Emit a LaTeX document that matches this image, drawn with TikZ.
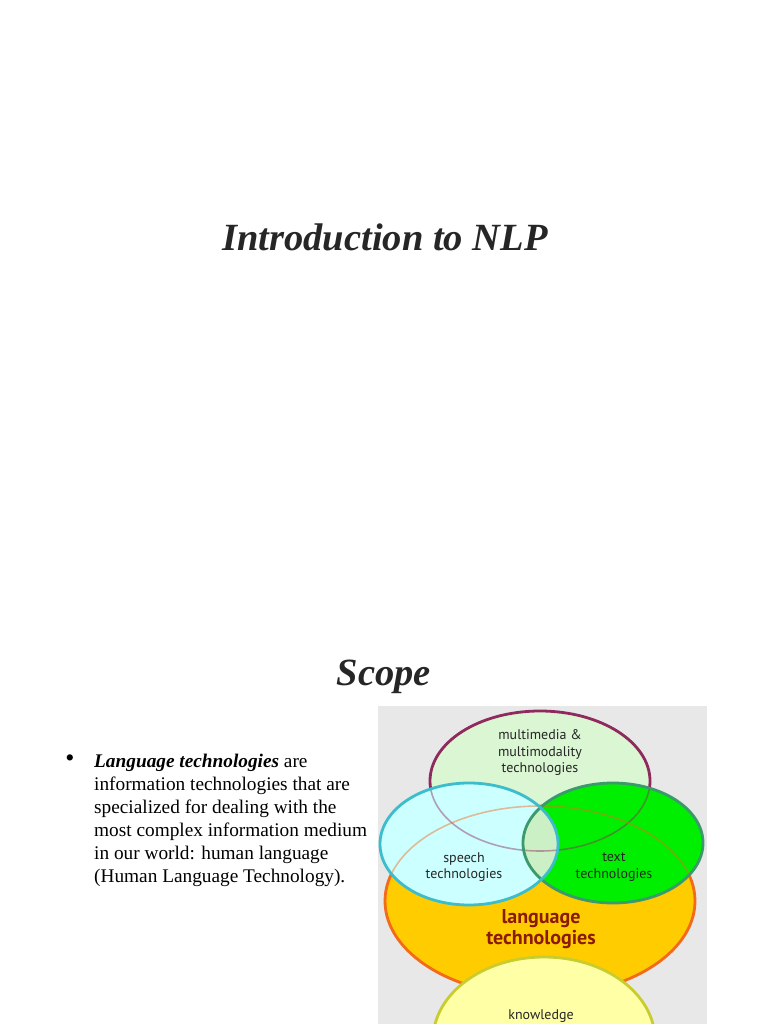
\documentclass[tikz,border=0pt]{standalone}
\usepackage{fontspec}
\setmainfont{Liberation Serif}
\newfontfamily\diafont{PT Sans}
\usepackage{xcolor}
\definecolor{inkgrey}{HTML}{262626}
\definecolor{panel}{HTML}{E8E8E8}
\definecolor{plum}{HTML}{8E2A5E}
\definecolor{palemint}{HTML}{DAF6D2}
\definecolor{aqua}{HTML}{3DBCCB}
\definecolor{paleaqua}{HTML}{CCFFFF}
\definecolor{leaf}{HTML}{00EE00}
\definecolor{seagreen}{HTML}{3A9A6C}
\definecolor{overlap}{HTML}{CCF0C6}
\definecolor{saffron}{HTML}{FFCC00}
\definecolor{ember}{HTML}{F36A1A}
\definecolor{maroon}{HTML}{8A1A00}
\definecolor{lemon}{HTML}{FFFFA6}
\definecolor{olive}{HTML}{C9CC2E}
\usetikzlibrary{positioning}
\tikzset{
  slidetitle/.style={font=\fontsize{38.5}{44}\selectfont\bfseries\itshape,
                     text=inkgrey,inner sep=0pt},
  bodyline/.style  ={font=\fontsize{19.3}{23}\selectfont,anchor=base west,
                     inner sep=0pt},
  ring/.style      ={line width=2.8pt},
  ghost/.style     ={line width=1.6pt,draw opacity=0.45},
  vlbl/.style      ={font=\diafont\fontsize{14}{16.7}\selectfont,text=inkgrey,
                     align=center,inner sep=0pt},
  bigvlbl/.style   ={font=\diafont\bfseries\fontsize{20}{20.5}\selectfont,
                     text=maroon,align=center,inner sep=0pt},
}

\begin{document}
\begin{tikzpicture}[x=1pt,y=-1pt]
\useasboundingbox (0,0) rectangle (768,1024);
% slide 1
\node[slidetitle,anchor=base] (intro) at (385,250) {Introduction to NLP};
% slide 2
\node[slidetitle,anchor=base] (scope) at (384,685) {Scope};
\node[font=\fontsize{26}{26}\selectfont,inner sep=0pt,anchor=base] (dot) at (70,766) {\textbullet};
\foreach \t [count=\i] in {%
  {\textbf{\textit{Language technologies}} are},
  {information technologies that are},
  {specialized for dealing with the},
  {most complex information medium},
  {in our world: human language},
  {(Human Language Technology).}}
  \node[bodyline] (line\i) at (94,{767+23*(\i-1)}) {\t};
% the venn panel
\fill[panel] (378,706) rectangle (707,1024);
\begin{scope}
\clip (378,706) rectangle (707,1024);
\filldraw[ring,fill=palemint,draw=plum] (540,781) ellipse [x radius=110,y radius=70];
\filldraw[ring,fill=saffron,draw=ember] (540,901) ellipse [x radius=155,y radius=95];
\filldraw[ring,fill=lemon,draw=olive] (544,1040) ellipse [x radius=111,y radius=83];
\fill[leaf] (613,843) ellipse [x radius=90,y radius=60];
\fill[paleaqua] (469,844) ellipse [x radius=89,y radius=61];
\begin{scope}
\clip (613,843) ellipse [x radius=90,y radius=60];
\fill[overlap] (469,844) ellipse [x radius=89,y radius=61];
\end{scope}
% hidden rims showing through
\begin{scope}
\clip (469,844) ellipse [x radius=89,y radius=61] (613,843) ellipse [x radius=90,y radius=60];
\draw[ghost,draw=plum] (540,781) ellipse [x radius=110,y radius=70];
\draw[ghost,draw=ember] (540,901) ellipse [x radius=155,y radius=95];
\end{scope}
\draw[ring,draw=seagreen] (613,843) ellipse [x radius=90,y radius=60];
\draw[ring,draw=aqua] (469,844) ellipse [x radius=89,y radius=61];
\end{scope}
\node[vlbl] (multi) at (540,752.5) {multimedia \&\\multimodality\\technologies};
\node[vlbl] (speech) at (464,867) {speech\\technologies};
\node[vlbl] (text) at (614,867) {text\\technologies};
\node[bigvlbl] (lang) at (541,929) {language\\technologies};
\node[vlbl,anchor=base] (know) at (541,1019) {knowledge};
\end{tikzpicture}
\end{document}
